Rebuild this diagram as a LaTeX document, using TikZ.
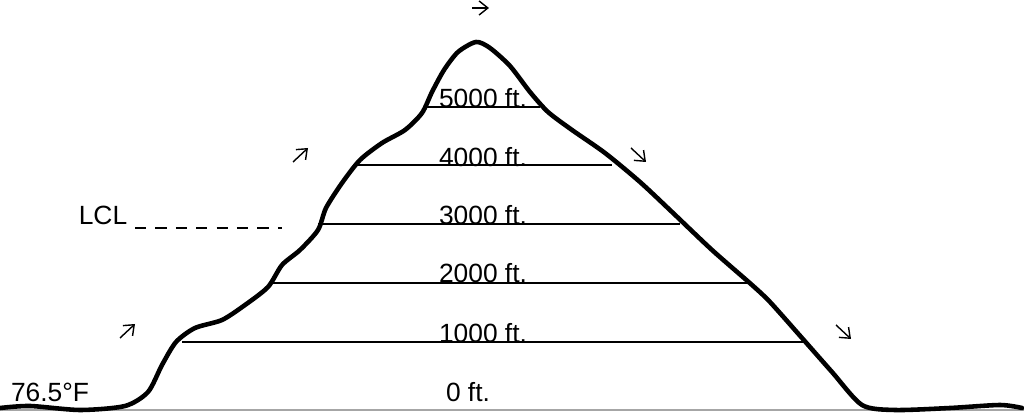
\documentclass[tikz,border=0pt]{standalone}
\usepackage{fontspec}
\setmainfont{Liberation Sans}
\usetikzlibrary{arrows.meta}
\begin{document}
\begin{tikzpicture}[x=0.01cm,y=-0.01cm,
  lbl/.style={font=\fontsize{7.5pt}{9pt}\selectfont,inner sep=0pt},
  lvl/.style={line width=0.3pt},
  sarr/.style={line width=0.4pt,-{Straight Barb[length=2.5pt,width=4pt]}}]
\useasboundingbox (0,0) rectangle (1024,416);
\draw[gray!70,line width=0.4pt] (0,410) -- (1024,410);
\draw[line width=1.3pt,line join=round,line cap=round] plot[smooth,tension=0.45] coordinates {
(0,408) (30,406) (80,410) (125,406) (148,392) (162,365) (176,342) (195,328) (222,320) (245,305) (268,287) (282,265) (300,250) (318,230) (326,208) (342,183) (360,160) (382,143) (405,130) (422,113) (432,92) (444,70) (458,52) (476,42) (490,48) (510,66) (530,92) (548,112) (572,130) (605,153) (640,182) (672,212) (712,250) (752,285) (770,302) (802,338) (832,372) (862,405) (895,410) (950,408) (1000,405) (1022,408)};
\draw[lvl] (425,107) -- (540,107);
\draw[lvl] (357,165) -- (612,165);
\draw[lvl] (318,224) -- (680,224);
\draw[lvl] (273,283) -- (752,283);
\draw[lvl] (182,342) -- (806,342);
\node[lbl] (l5) at (483,98) {5000 ft.};
\node[lbl] (l4) at (483,157) {4000 ft.};
\node[lbl] (l3) at (483,215) {3000 ft.};
\node[lbl] (l2) at (483,273) {2000 ft.};
\node[lbl] (l1) at (483,333) {1000 ft.};
\node[lbl] (l0) at (468,392) {0 ft.};
\node[lbl] (t) at (50,392) {76.5°F};
\node[lbl] (lcl) at (103,215) {LCL};
\coordinate (d1) at (135,228); \coordinate (d2) at (282,228);
\draw[line width=0.4pt,dash pattern=on 3.2pt off 2.6pt] (d1) -- (d2);
\draw[sarr] (472,8) -- (489,8);
\draw[sarr] (293,162) -- (308,148);
\draw[sarr] (631,148) -- (646,162);
\draw[sarr] (120,338) -- (135,324);
\draw[sarr] (836,325) -- (851,339);
\end{tikzpicture}
\end{document}
